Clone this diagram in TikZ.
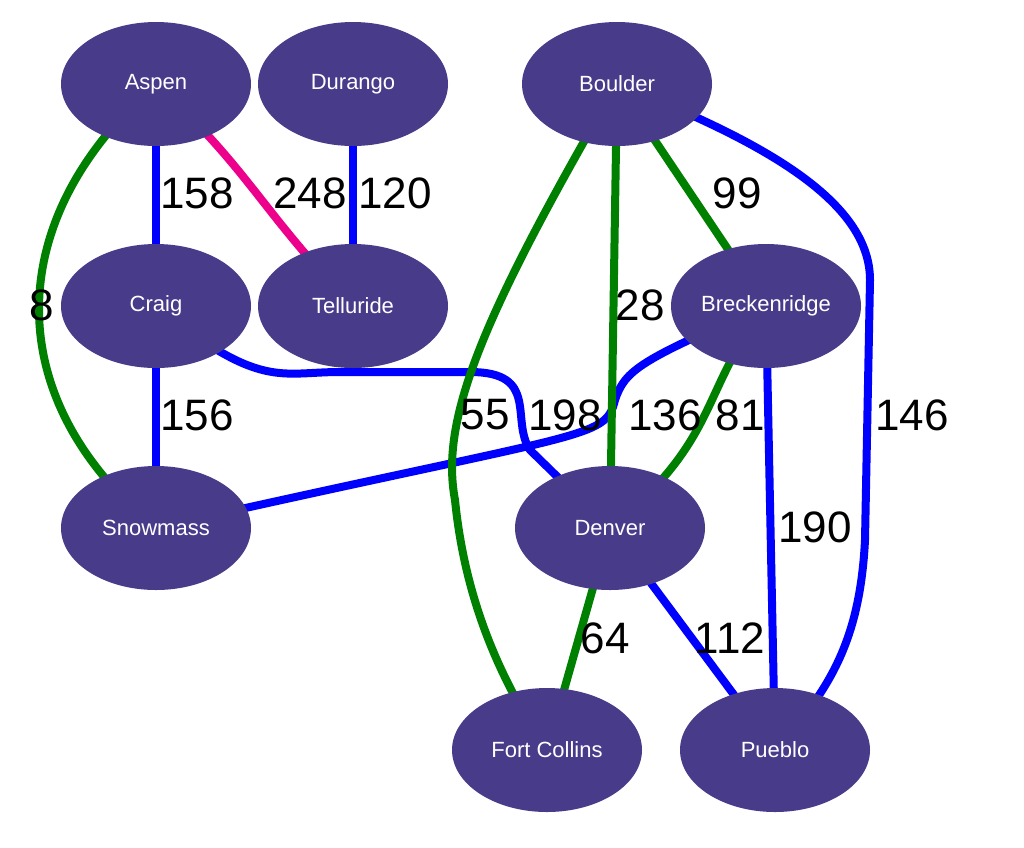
\documentclass[tikz,border=0pt]{standalone}
\usepackage{fontspec}
\setmainfont{Liberation Sans}
\usetikzlibrary{shapes.geometric}
\definecolor{nodec}{RGB}{72,60,138}
\definecolor{gr}{RGB}{0,128,0}
\begin{document}
\begin{tikzpicture}[x=1pt,y=-1pt,
  city/.style={ellipse,fill=nodec,minimum width=190pt,minimum height=124pt,inner sep=0pt,text=white,font=\fontsize{22}{24}\selectfont},
  e/.style={line width=8pt},
  b/.style={e,blue}, g/.style={e,gr}, m/.style={e,magenta},
  lbl/.style={font=\fontsize{44}{48}\selectfont,text=black,inner sep=0pt}]
\useasboundingbox (0,0) rectangle (1024,847);
\fill[white] (0,0) rectangle (1024,847);
% edges first
\coordinate (A) at (156,84); \coordinate (Du) at (353,84); \coordinate (Bo) at (617,84);
\coordinate (C) at (156,306); \coordinate (T) at (353,306); \coordinate (Br) at (766,306);
\coordinate (S) at (156,528); \coordinate (De) at (610,528);
\coordinate (F) at (547,750); \coordinate (P) at (775,750);
\draw[b] (A) -- (C);
\draw[m] (A) .. controls (250,170) and (260,210) .. (T);
\draw[b] (Du) -- (T);
\draw[g] (A) .. controls (0,220) and (0,400) .. (S);
\draw[b] (C) -- (S);
\draw[b] (C) .. controls (260,390) and (280,372) .. (340,372) -- (470,372) .. controls (540,372) and (510,420) .. (530,450) -- (De);
\draw[b] (Br) .. controls (640,360) and (625,370) .. (615,400) .. controls (605,440) and (590,430) .. (S);
\draw[g] (Bo) -- (Br);
\draw[g] (Bo) -- (De);
\draw[g] (Bo) .. controls (480,320) and (440,420) .. (455,500) .. controls (465,600) and (500,680) .. (F);
\draw[g] (Br) .. controls (700,390) and (720,440) .. (De);
\draw[b] (Br) -- (P);
\draw[b] (Bo) .. controls (760,140) and (870,200) .. (870,280) -- (865,540) .. controls (860,640) and (830,690) .. (P);
\draw[g] (De) -- (F);
\draw[b] (De) -- (P);
% nodes
\node[city] (aspen) at (A) {Aspen};
\node[city] (durango) at (Du) {Durango};
\node[city] (boulder) at (Bo) {Boulder};
\node[city] (craig) at (C) {Craig};
\node[city] (telluride) at (T) {Telluride};
\node[city] (breck) at (Br) {Breckenridge};
\node[city] (snowmass) at (S) {Snowmass};
\node[city] (denver) at (De) {Denver};
\node[city] (fortc) at (F) {Fort Collins};
\node[city] (pueblo) at (P) {Pueblo};
% labels
\node[lbl] (l1) at (197,193) {158};
\node[lbl] (l2) at (310,193) {248};
\node[lbl] (l3) at (395,193) {120};
\node[lbl] (l4) at (42,305) {8};
\node[lbl] (l5) at (197,415) {156};
\node[lbl] (l6) at (565,415) {198};
\node[lbl] (l7) at (665,415) {136};
\node[lbl] (l8) at (737,193) {99};
\node[lbl] (l9) at (640,305) {28};
\node[lbl] (l10) at (485,415) {55};
\node[lbl] (l11) at (740,415) {81};
\node[lbl] (l12) at (815,527) {190};
\node[lbl] (l13) at (912,415) {146};
\node[lbl] (l14) at (605,638) {64};
\node[lbl] (l15) at (730,638) {112};
\end{tikzpicture}
\end{document}
